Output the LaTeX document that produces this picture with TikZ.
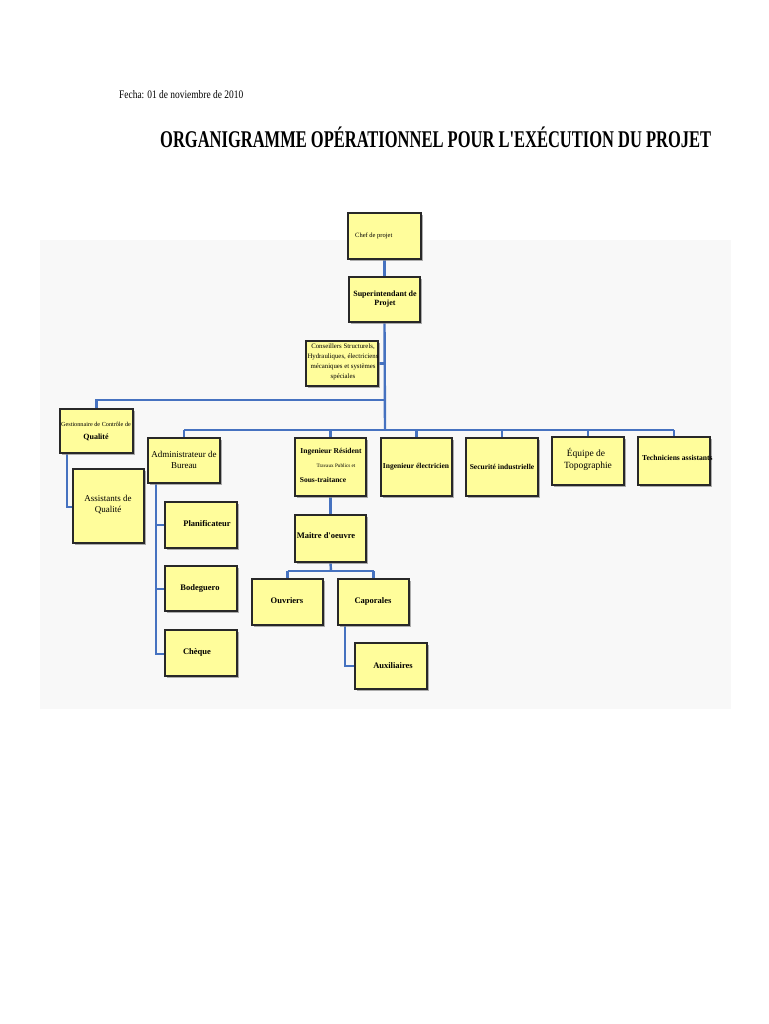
\documentclass[tikz,border=0pt]{standalone}
\usepackage{fontspec}
\setmainfont{Liberation Serif}
\usetikzlibrary{shadows}
\definecolor{boxfill}{RGB}{255,253,155}
\definecolor{linkblue}{RGB}{70,114,192}
\definecolor{panel}{RGB}{248,248,248}
\definecolor{boxedge}{RGB}{40,40,40}
\pgfdeclarelayer{panellayer}
\pgfdeclarelayer{linklayer}
\pgfsetlayers{panellayer,linklayer,main}
\tikzset{
  box/.style={draw=boxedge, line width=1.7pt, fill=boxfill, inner sep=0pt,
    drop shadow={shadow xshift=1.6pt, shadow yshift=-1.6pt, fill=black!45, opacity=0.7}},
  link/.style={draw=linkblue, line width=2.4pt},
  lbl/.style={inner sep=0pt, align=center, text=black},
}
\newcommand{\bx}[5]{\node[box, minimum width={#4-#2}, minimum height={#5-#3}] (#1) at ({(#2+#4)/2},{(#3+#5)/2}) {};}
\begin{document}
\begin{tikzpicture}[x=1pt,y=-1pt]
\useasboundingbox (0,0) rectangle (768,1024);
\begin{pgfonlayer}{panellayer}
\fill[white] (0,0) rectangle (768,1024);
\fill[panel] (40,240) rectangle (731,709);
\end{pgfonlayer}

% header
\node[lbl, anchor=west] (fecha) at (119,95) {\resizebox{124pt}{\height}{\fontsize{11.5}{12}\selectfont Fecha: 01 de noviembre de 2010}};
\node[lbl, anchor=west] (title) at (160,137) {\resizebox{551pt}{\height}{\fontsize{24}{26}\selectfont\bfseries ORGANIGRAMME OPÉRATIONNEL POUR L\textquotesingle EXÉCUTION DU PROJET}};

% boxes
\bx{chef}{348}{213}{421}{259}
\bx{sup}{349}{277}{420}{322}
\bx{cons}{306}{341}{378}{386}
\bx{gest}{60}{409}{133}{453}
\bx{assq}{73}{469}{144}{543}
\bx{adm}{148}{438}{220}{483}
\bx{plan}{165}{502}{237}{548}
\bx{bod}{165}{566}{237}{611}
\bx{cheq}{165}{630}{237}{676}
\bx{ingr}{295}{438}{366}{496}
\bx{inge}{381}{438}{452}{496}
\bx{secu}{466}{438}{538}{496}
\bx{topo}{552}{437}{624}{485}
\bx{tech}{638}{437}{710}{485}
\bx{maitre}{295}{515}{366}{562}
\bx{ouvr}{252}{579}{323}{625}
\bx{capo}{338}{579}{409}{625}
\bx{aux}{355}{643}{427}{689}

% connector junctions
\coordinate (j1) at (385,430);
\coordinate (jq) at (385,400);
\coordinate (jm) at (331,571);
\coordinate (qa) at (67,507);
\coordinate (aa) at (156,654);
\coordinate (ap) at (156,525);
\coordinate (ab) at (156,589);
\coordinate (ca) at (345,666);

\begin{pgfonlayer}{linklayer}
\path[link] (chef.south) -- (sup.north);
\path[link] (sup.south) -- (j1);
\path[link] (cons.east) -- (cons.east -| j1);
\path[link] (jq) -- (gest.north |- jq) -- (gest.north);
\path[link] (adm.north |- j1) -- (tech.north |- j1);
\path[link] (adm.north |- j1) -- (adm.north);
\foreach \n in {ingr,inge,secu,topo,tech}{\path[link] (\n.north |- j1) -- (\n.north);}
\path[link] (gest.south -| qa) -- (qa) -- (assq.west |- qa);
\path[link] (adm.south -| aa) -- (aa) -- (cheq.west |- aa);
\path[link] (ap) -- (plan.west |- ap);
\path[link] (ab) -- (bod.west |- ab);
\path[link] (ingr.south) -- (maitre.north);
\path[link] (maitre.south) -- (jm);
\path[link] (ouvr.north |- jm) -- (capo.north |- jm);
\path[link] (ouvr.north |- jm) -- (ouvr.north);
\path[link] (capo.north |- jm) -- (capo.north);
\path[link] (capo.south -| ca) -- (ca) -- (aux.west |- ca);
\end{pgfonlayer}

% texts
\node[lbl, anchor=west, font=\fontsize{6.5}{8}\selectfont] (t1) at (355,236) {Chef de projet};
\node[lbl, font=\fontsize{8}{9.5}\selectfont\bfseries] (t2) at (385,299) {Superintendant de\\Projet};
\node[lbl, font=\fontsize{6.8}{9.8}\selectfont] (t3) at (343,362) {Conseillers Structurels,\\Hydrauliques, électriciens\\mécaniques et systèmes\\spéciales};
\node[lbl, font=\fontsize{6.2}{8}\selectfont] (t4) at (96,424) {Gestionnaire de Contrôle de};
\node[lbl, font=\fontsize{8}{9}\selectfont\bfseries] (t5) at (96,437) {Qualité};
\node[lbl, font=\fontsize{9}{11}\selectfont] (t6) at (108,505) {Assistants de\\Qualité};
\node[lbl, font=\fontsize{9}{11}\selectfont] (t7) at (184,460) {Administrateur de\\Bureau};
\node[lbl, font=\fontsize{8.5}{10}\selectfont\bfseries] (t8) at (207,524) {Planificateur};
\node[lbl, font=\fontsize{8.5}{10}\selectfont\bfseries] (t9) at (200,588) {Bodeguero};
\node[lbl, font=\fontsize{8.5}{10}\selectfont\bfseries] (t10) at (197,652) {Chèque};
\node[lbl, font=\fontsize{7.5}{9}\selectfont\bfseries] (t11) at (331,452) {Ingenieur Résident};
\node[lbl, font=\fontsize{5.2}{6}\selectfont] (t12) at (336,466) {Travaux Publics et};
\node[lbl, font=\fontsize{7.5}{9}\selectfont\bfseries] (t13) at (323,480) {Sous-traitance};
\node[lbl, font=\fontsize{7.5}{9}\selectfont\bfseries] (t14) at (416,467) {Ingenieur électricien};
\node[lbl, font=\fontsize{7.5}{9}\selectfont\bfseries] (t15) at (502,467) {Securité industrielle};
\node[lbl, font=\fontsize{9.5}{12}\selectfont] (t16) at (586,459) {Équipe de\\\hspace*{4pt}Topographie};
\node[lbl, anchor=west, font=\fontsize{7.6}{9}\selectfont\bfseries] (t17) at (642,458) {Techniciens assistants};
\node[lbl, font=\fontsize{8.5}{10}\selectfont\bfseries] (t18) at (326,536) {Maitre d\textquotesingle oeuvre};
\node[lbl, font=\fontsize{8.5}{10}\selectfont\bfseries] (t19) at (287,601) {Ouvriers};
\node[lbl, font=\fontsize{8.5}{10}\selectfont\bfseries] (t20) at (373,601) {Caporales};
\node[lbl, font=\fontsize{8.5}{10}\selectfont\bfseries] (t21) at (393,666) {Auxiliaires};
\end{tikzpicture}
\end{document}
